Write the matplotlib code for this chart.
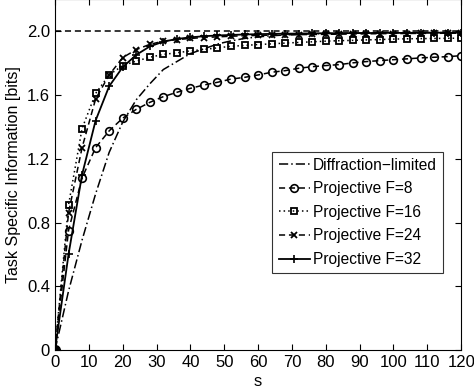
import matplotlib
matplotlib.use("Agg")
import matplotlib.pyplot as plt

plt.rcParams["font.family"] = ["Liberation Sans", "DejaVu Sans"]

# sample positions of the markers (every 4 units of s)
s = list(range(0, 121, 4))

diffraction = [0, 0.37, 0.69, 0.98, 1.24, 1.43, 1.57, 1.67, 1.76, 1.81, 1.86,
               1.89, 1.92, 1.94, 1.955, 1.965, 1.972, 1.977, 1.981, 1.984, 1.986,
               1.987, 1.988, 1.989, 1.99, 1.99, 1.991, 1.991, 1.992, 1.992, 1.992]
proj_f8 = [0, 0.75, 1.08, 1.27, 1.375, 1.455, 1.51, 1.554, 1.59, 1.617, 1.642,
           1.663, 1.68, 1.70, 1.711, 1.726, 1.743, 1.753, 1.768, 1.778, 1.785,
           1.791, 1.802, 1.81, 1.816, 1.822, 1.827, 1.833, 1.837, 1.841, 1.847]
proj_f16 = [0, 0.91, 1.39, 1.61, 1.726, 1.785, 1.813, 1.837, 1.855, 1.865, 1.877,
            1.886, 1.896, 1.906, 1.911, 1.917, 1.921, 1.926, 1.93, 1.934, 1.938,
            1.941, 1.943, 1.946, 1.948, 1.951, 1.953, 1.954, 1.955, 1.956, 1.957]
proj_f24 = [0, 0.86, 1.27, 1.575, 1.726, 1.835, 1.885, 1.918, 1.938, 1.948, 1.955,
            1.961, 1.965, 1.969, 1.972, 1.974, 1.976, 1.978, 1.979, 1.98, 1.981,
            1.982, 1.983, 1.984, 1.985, 1.986, 1.986, 1.987, 1.987, 1.988, 1.988]
proj_f32 = [0, 0.60, 1.10, 1.44, 1.655, 1.775, 1.852, 1.905, 1.935, 1.952, 1.962,
            1.969, 1.974, 1.977, 1.98, 1.982, 1.984, 1.985, 1.986, 1.987, 1.988,
            1.988, 1.989, 1.989, 1.99, 1.99, 1.99, 1.991, 1.991, 1.991, 1.992]

upper_bound = 2.0

fig = plt.figure(figsize=(4.74, 3.92), dpi=100)
# top edge sits just above the picture, as in the cropped original
ax = fig.add_axes([0.116, 0.107, 0.857, 0.8945])

lw = 1.1
ax.axhline(upper_bound, color="black", linestyle=(0, (4, 2.5)), linewidth=lw)
ax.plot(s, diffraction, color="black", linestyle=(0, (6, 2, 1, 2)), linewidth=lw,
        label="Diffraction\u2212limited")
ax.plot(s, proj_f8, color="black", linestyle=(0, (4, 2.5)), linewidth=lw,
        marker="o", markersize=5.5, markerfacecolor="none", markeredgewidth=1.2,
        label="Projective F=8")
ax.plot(s, proj_f16, color="black", linestyle=(0, (1, 2)), linewidth=lw,
        marker="s", markersize=5, markerfacecolor="none", markeredgewidth=1.3,
        label="Projective F=16")
ax.plot(s, proj_f24, color="black", linestyle=(0, (4, 2.5)), linewidth=lw,
        marker="x", markersize=4.5, markeredgewidth=1.3,
        label="Projective F=24")
ax.plot(s, proj_f32, color="black", linestyle="-", linewidth=1.3,
        marker="+", markersize=6, markeredgewidth=1.2,
        label="Projective F=32")
ax.plot([0], [0], "o", color="black", markersize=7)

ax.set_xlim(0, 120)
ax.set_ylim(0, 2.2)
ax.set_xticks(range(0, 121, 10))
ax.set_yticks([0, 0.4, 0.8, 1.2, 1.6, 2.0])
ax.set_yticklabels(["0", "0.4", "0.8", "1.2", "1.6", "2.0"])
ax.tick_params(direction="in", length=4, labelsize=12, top=True, right=True)
for sp in ax.spines.values():
    sp.set_linewidth(0.8)

ax.set_xlabel("s", fontsize=12, labelpad=3)
ax.set_ylabel("Task Specific Information [bits]", fontsize=11.5, labelpad=4)

leg = ax.legend(loc="upper left", bbox_to_anchor=(0.535, 0.566), fontsize=11.2,
                numpoints=1, frameon=True, fancybox=False, edgecolor="black",
                handlelength=2.0, handletextpad=0.2, borderpad=0.4,
                labelspacing=0.55, borderaxespad=0)
leg.get_frame().set_linewidth(0.8)

fig.savefig("out.png", dpi=100)
